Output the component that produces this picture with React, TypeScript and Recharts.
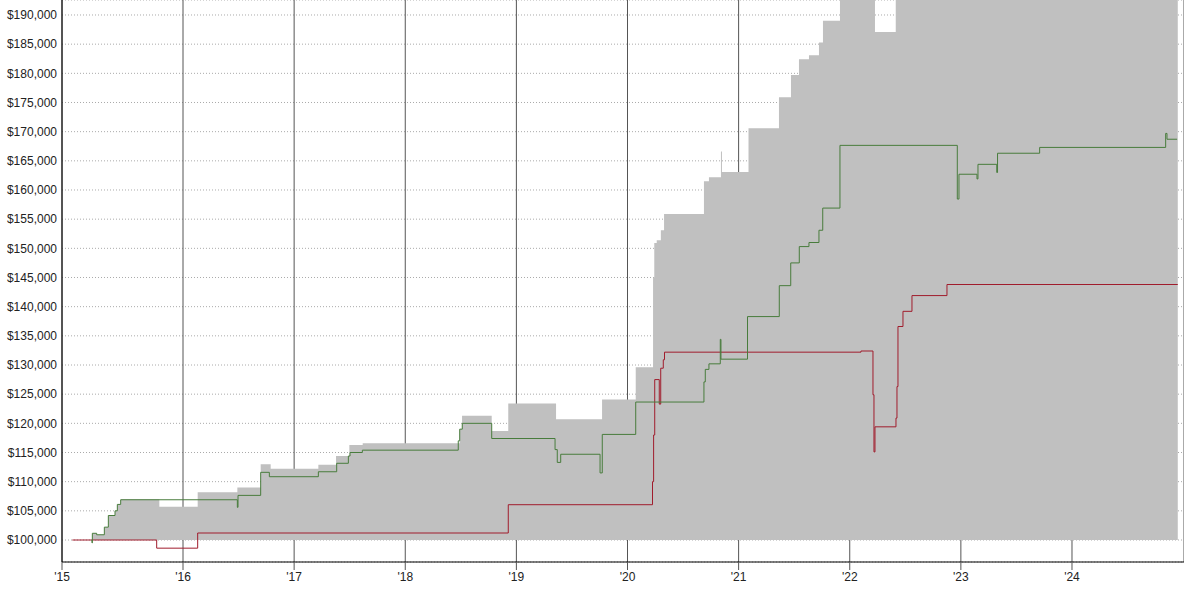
import { ComposedChart, Area, Line, CartesianGrid, XAxis, YAxis } from "recharts";

// [fractional year, equity $]
const envelopeSteps: [number, number][] = [
  [2015.184, 101150], [2015.223, 100900], [2015.292, 102200], [2015.328, 104200],
  [2015.388, 105000], [2015.409, 106100], [2015.439, 107000], [2015.787, 105700],
  [2016.132, 108200], [2016.489, 109000], [2016.699, 113000], [2016.789, 112200],
  [2017.218, 112900], [2017.377, 114400], [2017.497, 116300], [2017.617, 116600],
  [2018.49, 119000], [2018.511, 121300], [2018.778, 118700], [2018.927, 123400],
  [2019.357, 120700], [2019.771, 124100], [2020.074, 129600], [2020.23, 145000],
  [2020.241, 150900], [2020.263, 151400], [2020.3, 153100], [2020.329, 155900],
  [2020.688, 161500], [2020.733, 162200], [2020.841, 166600], [2020.85, 163100],
  [2021.089, 170600], [2021.363, 175900], [2021.471, 179700], [2021.543, 182400],
  [2021.633, 183100], [2021.723, 185300], [2021.759, 189000], [2021.912, 200000],
  [2022.227, 187100], [2022.414, 200000], [2024.952, 200000],
];

const greenSteps: [number, number][] = [
  [2015.178, 100000], [2015.181, 99500], [2015.184, 101150], [2015.223, 100900],
  [2015.292, 102200], [2015.328, 104200], [2015.388, 105000], [2015.409, 106100],
  [2015.439, 106900], [2016.489, 105600], [2016.495, 107650], [2016.699, 111600],
  [2016.777, 110850], [2017.218, 111700], [2017.383, 113150], [2017.488, 114400],
  [2017.503, 115000], [2017.614, 115400], [2018.477, 117000], [2018.49, 119000],
  [2018.513, 120000], [2018.778, 117400], [2019.348, 115500], [2019.368, 113300],
  [2019.399, 114700], [2019.753, 111500], [2019.773, 118100], [2020.074, 123650],
  [2020.688, 127100], [2020.7, 129250], [2020.733, 130200], [2020.835, 134400],
  [2020.841, 131000], [2021.08, 138300], [2021.366, 143600], [2021.469, 147500],
  [2021.546, 150300], [2021.633, 151000], [2021.723, 153100], [2021.757, 156900],
  [2021.912, 167650], [2022.968, 158450], [2022.983, 162700], [2023.145, 161900],
  [2023.154, 164400], [2023.323, 163000], [2023.33, 166300], [2023.709, 167300],
  [2024.843, 169700], [2024.855, 168700], [2024.946, 168700],
];

const redSteps: [number, number][] = [
  [2015.004, 100000], [2015.763, 98600], [2016.132, 101200], [2018.927, 106050],
  [2020.225, 110000], [2020.235, 118000], [2020.245, 127500], [2020.286, 123300],
  [2020.299, 129450], [2020.322, 130900], [2020.333, 132200], [2022.101, 132400],
  [2022.209, 124900], [2022.218, 115100], [2022.227, 119400], [2022.416, 120900],
  [2022.425, 126300], [2022.434, 136600], [2022.479, 139200], [2022.56, 141900],
  [2022.875, 143800], [2024.952, 143800],
];

const yearTicks = [2014.911, 2016, 2017, 2018, 2019, 2020, 2021, 2022, 2023, 2024];
const dollarTicks = [
  100000, 105000, 110000, 115000, 120000, 125000, 130000, 135000, 140000, 145000,
  150000, 155000, 160000, 165000, 170000, 175000, 180000, 185000, 190000,
];

const toRows = (steps: [number, number][]) => steps.map(([t, v]) => ({ t, v }));

const tickFont = { fontSize: 12, fill: "#222", fontFamily: "'Liberation Sans', Arial, sans-serif" };

export default function App() {
  return (
    <div style={{ position: "absolute", left: 0, top: 0, background: "#fff" }}>
      <ComposedChart width={1184} height={600} margin={{ top: 0, right: 0, bottom: 0, left: 0 }}>
        <CartesianGrid vertical={false} stroke="#aaa" strokeDasharray="1 2" />
        <CartesianGrid horizontal={false} stroke="#555" />
        <XAxis
          type="number"
          dataKey="t"
          domain={[2014.911, 2025.008]}
          allowDataOverflow
          ticks={yearTicks}
          tickFormatter={(v: number) => "'" + String(Math.round(v)).slice(2)}
          interval={0}
          height={38}
          tickSize={8}
          tickMargin={2}
          tickLine={{ stroke: "#555" }}
          axisLine={{ stroke: "#000" }}
          tick={tickFont}
        />
        <YAxis
          type="number"
          domain={[96229, 192571]}
          allowDataOverflow
          ticks={dollarTicks}
          interval={0}
          tickFormatter={(v: number) => "$" + v.toLocaleString("en-US")}
          width={62}
          tickSize={0}
          tickMargin={5}
          tickLine={false}
          axisLine={{ stroke: "#000" }}
          tick={tickFont}
        />
        <Area
          data={toRows(envelopeSteps)}
          dataKey="v"
          type="stepAfter"
          baseValue={100000}
          stroke="none"
          fill="#c0c0c0"
          fillOpacity={1}
          isAnimationActive={false}
        />
        <Line
          data={toRows(redSteps)}
          dataKey="v"
          type="stepAfter"
          stroke="#a01c2c"
          strokeWidth={1}
          dot={false}
          isAnimationActive={false}
        />
        <Line
          data={toRows(greenSteps)}
          dataKey="v"
          type="stepAfter"
          stroke="#487c3c"
          strokeWidth={1}
          dot={false}
          isAnimationActive={false}
        />
      </ComposedChart>
    </div>
  );
}
